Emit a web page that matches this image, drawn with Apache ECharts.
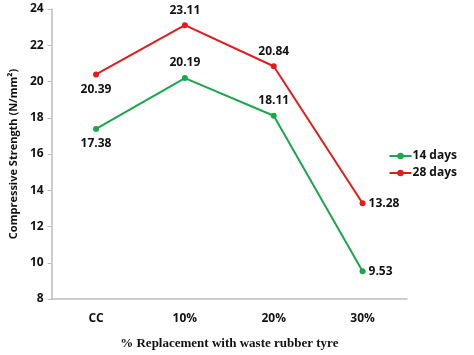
<!DOCTYPE html>
<html><head><meta charset="utf-8">
<script src="https://cdn.jsdelivr.net/npm/echarts@6/dist/echarts.min.js"></script>
<style>html,body{margin:0;padding:0;background:#fff}#c{width:474px;height:355px}</style>
</head><body><div id="c"></div>
<script>
const categories = ['CC', '10%', '20%', '30%'];
const days14 = [17.38, 20.19, 18.11, 9.53];
const days28 = [20.39, 23.11, 20.84, 13.28];
const yTicks = {min: 8, max: 24, interval: 2};

const green = '#1aa64a';
const red = '#e31b1b';
const labelFont = {fontFamily: 'Open Sans', fontWeight: 'bold', fontSize: 12, color: '#111'};
const positions = ['bottom', 'top', 'top', 'right'];

const mk = (vals) => vals.map((v, i) => ({
  value: v,
  label: {position: positions[i], distance: positions[i] === 'right' ? 3 : 6}
}));

const chart = echarts.init(document.getElementById('c'));
chart.setOption({
  animation: false,
  grid: {left: 43, right: 67, top: 9, bottom: 52},
  legend: {
    orient: 'vertical', right: 12, top: 145, itemGap: 5, itemWidth: 22, itemHeight: 8,
    textStyle: {fontFamily: 'Open Sans', fontWeight: 'bold', fontSize: 12, color: '#111', padding: [0,0,0,-4]},
    data: ['14 days', '28 days']
  },
  xAxis: {
    type: 'category', data: categories, boundaryGap: true,
    name: '% Replacement with waste rubber tyre', nameLocation: 'middle', nameGap: 38,
    nameTextStyle: {fontFamily: 'Liberation Serif', fontWeight: 'bold', fontSize: 13, color: '#111'},
    axisLine: {lineStyle: {color: '#bdbdbd', width: 1.5}},
    axisTick: {show: false},
    axisLabel: {fontFamily: 'Open Sans', fontWeight: 'bold', fontSize: 12, color: '#111', margin: 14}
  },
  yAxis: {
    type: 'value', min: yTicks.min, max: yTicks.max, interval: yTicks.interval,
    name: 'Compressive Strength (N/mm²)', nameLocation: 'middle', nameGap: 30, nameRotate: 90,
    nameTextStyle: {fontFamily: 'Open Sans', fontWeight: 'bold', fontSize: 11, color: '#111'},
    axisLine: {show: true, lineStyle: {color: '#bdbdbd', width: 1.5}},
    axisTick: {show: true, length: 4, lineStyle: {color: '#bdbdbd'}},
    splitLine: {show: false},
    axisLabel: {fontFamily: 'Open Sans', fontWeight: 'bold', fontSize: 12, color: '#111', margin: 8}
  },
  series: [
    {
      name: '14 days', type: 'line', data: mk(days14), color: green,
      symbol: 'circle', symbolSize: 6, lineStyle: {width: 2, color: green},
      label: {show: true, ...labelFont, formatter: p => p.value.toFixed(2)},
      emphasis: {disabled: true}
    },
    {
      name: '28 days', type: 'line', data: mk(days28), color: red,
      symbol: 'circle', symbolSize: 6, lineStyle: {width: 2, color: red},
      label: {show: true, ...labelFont, formatter: p => p.value.toFixed(2)},
      emphasis: {disabled: true}
    }
  ]
});
</script></body></html>
